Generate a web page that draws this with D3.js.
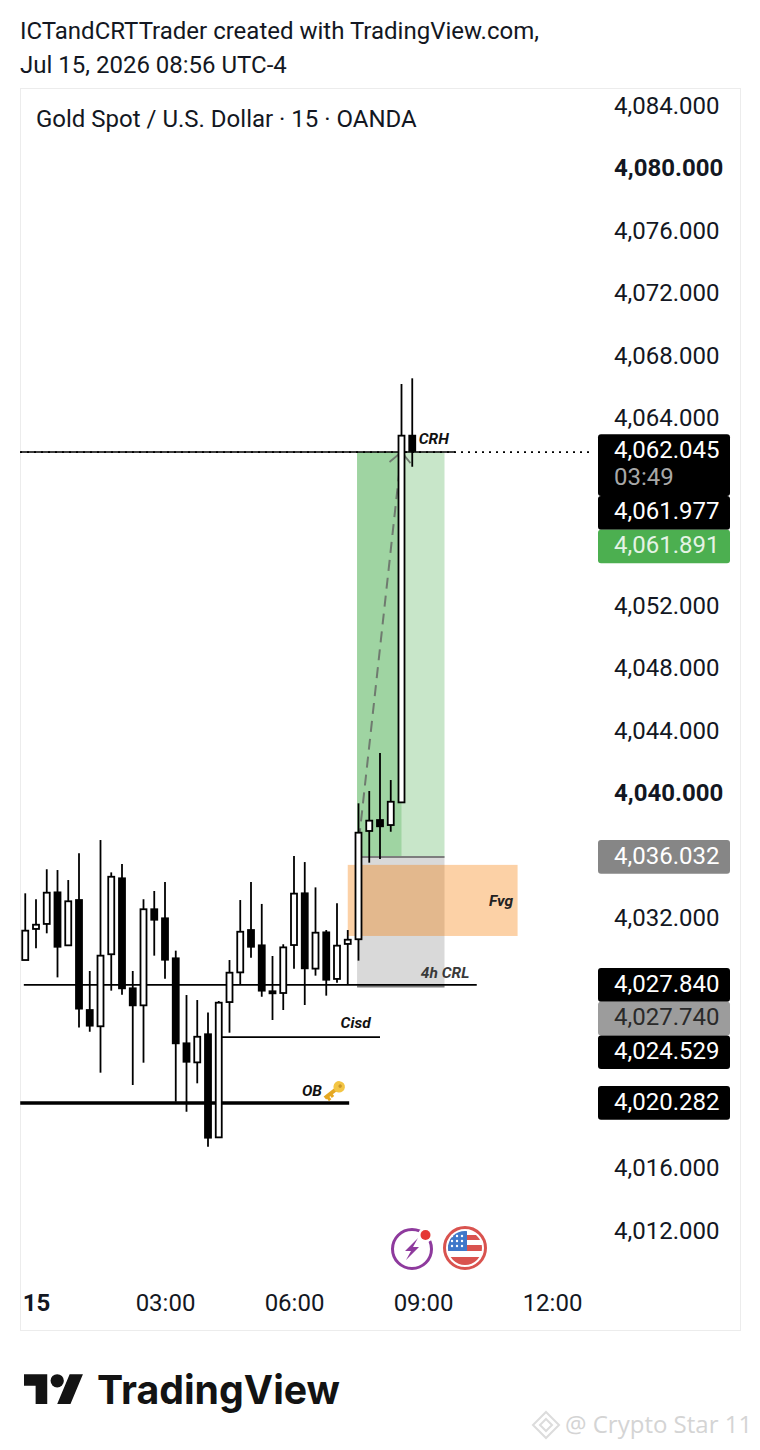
<!DOCTYPE html>
<html>
<head>
<meta charset="utf-8">
<script src="https://cdn.jsdelivr.net/npm/d3@7"></script>
<style>
    body { margin: 0; background: #fff; }
    text { font-family: Roboto, sans-serif; }
    .domain { display: none; }
</style>
</head>
<body>
<div id="chart"></div>
<script>
// candles, 15 minute bars starting 23:45 on the 14th
var opens = [4029.31, 4031.30, 4031.62, 4033.64, 4030.25, 4033.15, 4026.11, 4025.07, 4029.68, 4034.54, 4027.50, 4026.41, 4032.56, 4031.98, 4029.42, 4023.98, 4022.76, 4024.56, 4017.96, 4026.62, 4028.52, 4031.23, 4030.25, 4027.31, 4027.20, 4030.27, 4033.58, 4028.76, 4031.08, 4028.10, 4030.34, 4030.64, 4037.57, 4038.27, 4037.95, 4039.40, 4062.87];
var highs = [4033.58, 4033.20, 4035.12, 4035.07, 4034.43, 4036.14, 4028.61, 4036.99, 4034.92, 4035.46, 4028.61, 4033.20, 4033.73, 4034.30, 4029.91, 4027.07, 4026.75, 4025.96, 4026.69, 4029.31, 4033.15, 4034.30, 4032.90, 4029.57, 4030.32, 4035.97, 4035.58, 4033.96, 4031.23, 4032.94, 4031.23, 4039.34, 4040.13, 4042.56, 4040.83, 4066.18, 4066.54];
var lows = [4029.31, 4030.06, 4031.02, 4028.20, 4030.25, 4025.00, 4024.72, 4022.10, 4027.35, 4027.09, 4021.31, 4022.74, 4029.59, 4028.12, 4020.24, 4019.60, 4021.42, 4017.36, 4017.96, 4024.66, 4027.71, 4029.46, 4026.96, 4025.47, 4026.11, 4028.76, 4026.43, 4028.31, 4027.03, 4027.86, 4027.71, 4029.27, 4035.54, 4035.78, 4037.52, 4039.40, 4060.88];
var closes = [4031.19, 4031.57, 4033.62, 4030.16, 4033.07, 4026.20, 4025.11, 4029.59, 4034.64, 4027.50, 4026.41, 4032.56, 4031.89, 4029.33, 4023.98, 4022.80, 4024.40, 4017.94, 4026.58, 4028.50, 4031.12, 4030.16, 4027.35, 4027.18, 4030.12, 4033.56, 4028.78, 4031.06, 4028.05, 4030.23, 4030.61, 4037.46, 4038.23, 4037.87, 4039.44, 4062.87, 4061.89];

// axis ticks
var priceTicks = [4084, 4080, 4076, 4072, 4068, 4064, 4052, 4048, 4044, 4040, 4032, 4016, 4012];
var boldPrices = [4080, 4040];
var timeTicks = [0, 3, 6, 9, 12];

// price labels on the right
var labelPrices = [4062.045, 4061.977, 4061.891, 4036.032, 4027.840, 4027.740, 4024.529, 4020.282];
var labelKinds = ['last', 'black', 'green', 'gray', 'black', 'lightgray', 'black', 'black'];

// drawings: hours from midnight and prices
var crhPrice = 4061.82;
var entryPrice = 4035.90;
var stopPrice = 4027.72;
var boxBottom = 4027.62;
var fvgTop = 4035.40;
var fvgBottom = 4030.85;
var cisdPrice = 4024.38;
var obPrice = 4020.16;

var width = 760;
var height = 1450;
var frame = {left: 20, right: 740, top: 88, bottom: 1330};
var fontSize = 24;

function hoursToDate(h) {
    return new Date(2026, 6, 15, 0, Math.round(h * 60));
}

var xScale = d3.scaleTime()
    .domain([hoursToDate(0), hoursToDate(12)])
    .range([36, 552]);

var yScale = d3.scaleLinear()
    .domain([4084, 4012])
    .range([105.5, 1230.5]);

var x = function (h) { return xScale(hoursToDate(h)); };

var svg = d3.select('#chart')
    .append('svg')
    .attr('width', width)
    .attr('height', height)
    .style('display', 'block');

// header
svg.append('text').attr('x', 20).attr('y', 39).attr('font-size', fontSize).attr('fill', '#131722')
    .text('ICTandCRTTrader created with TradingView.com,');
svg.append('text').attr('x', 20).attr('y', 73).attr('font-size', fontSize).attr('fill', '#131722')
    .text('Jul 15, 2026 08:56 UTC-4');

svg.append('rect')
    .attr('x', frame.left + 0.5).attr('y', frame.top + 0.5)
    .attr('width', frame.right - frame.left).attr('height', frame.bottom - frame.top)
    .attr('fill', 'none').attr('stroke', '#ececec');

svg.append('text').attr('x', 36).attr('y', 127).attr('font-size', fontSize).attr('fill', '#131722')
    .text('Gold Spot / U.S. Dollar \u00b7 15 \u00b7 OANDA');

// long position tool
var boxStart = 7.47, boxMid = 8.5, boxEnd = 9.5;
svg.append('rect')
    .attr('x', x(boxStart)).attr('width', x(boxEnd) - x(boxStart))
    .attr('y', yScale(crhPrice)).attr('height', yScale(entryPrice) - yScale(crhPrice))
    .attr('fill', '#c8e6c9');
svg.append('rect')
    .attr('x', x(boxStart)).attr('width', x(boxMid) - x(boxStart))
    .attr('y', yScale(crhPrice)).attr('height', yScale(entryPrice) - yScale(crhPrice))
    .attr('fill', '#9fd4a2');
svg.append('rect')
    .attr('x', x(boxStart)).attr('width', x(boxEnd) - x(boxStart))
    .attr('y', yScale(entryPrice)).attr('height', yScale(boxBottom) - yScale(entryPrice))
    .attr('fill', '#d9d9d9');
svg.append('line')
    .attr('x1', x(boxStart)).attr('x2', x(boxEnd))
    .attr('y1', yScale(entryPrice)).attr('y2', yScale(entryPrice))
    .attr('stroke', '#7d7d7d').attr('stroke-width', 2);
svg.append('line')
    .attr('x1', x(boxStart)).attr('x2', x(boxEnd))
    .attr('y1', yScale(boxBottom)).attr('y2', yScale(boxBottom))
    .attr('stroke', '#7d7d7d').attr('stroke-width', 2);

// path of the trade, dashed, with arrow head
svg.append('line')
    .attr('x1', x(boxStart)).attr('y1', yScale(entryPrice))
    .attr('x2', x(boxMid)).attr('y2', yScale(crhPrice))
    .attr('stroke', '#6f7a6f').attr('stroke-width', 2).attr('stroke-dasharray', '11 7');
svg.append('path')
    .attr('d', 'M' + (x(boxMid) - 12) + ',' + (yScale(crhPrice) + 10)
        + 'L' + x(boxMid) + ',' + yScale(crhPrice)
        + 'L' + (x(boxMid) + 9) + ',' + (yScale(crhPrice) + 11))
    .attr('fill', 'none').attr('stroke', '#6f7a6f').attr('stroke-width', 1.8);

// fair value gap
svg.append('rect')
    .attr('x', x(7.25)).attr('width', x(11.2) - x(7.25))
    .attr('y', yScale(fvgTop)).attr('height', yScale(fvgBottom) - yScale(fvgTop))
    .attr('fill', '#f57c00').attr('fill-opacity', 0.35);

// horizontal levels
var levelLine = function (start, end, price, w) {
    svg.append('line')
        .attr('x1', x(start)).attr('x2', x(end))
        .attr('y1', yScale(price)).attr('y2', yScale(price))
        .attr('stroke', '#000').attr('stroke-width', w);
};
levelLine(-0.28, 10.25, stopPrice, 1.8);
levelLine(4.25, 8, cisdPrice, 1.8);
levelLine(-0.37, 7.28, obPrice, 3.6);
levelLine(-0.37, 9.75, crhPrice, 1.5);
svg.append('line')
    .attr('x1', frame.left).attr('x2', 592)
    .attr('y1', yScale(crhPrice)).attr('y2', yScale(crhPrice))
    .attr('stroke', '#000').attr('stroke-width', 1.8).attr('stroke-dasharray', '2 5');

// candles
var candles = d3.range(opens.length).map(function (i) {
    return {time: i * 0.25 - 0.25, open: opens[i], high: highs[i], low: lows[i], close: closes[i]};
});
var bodyWidth = 6;

var candle = svg.append('g').selectAll('g')
    .data(candles)
    .enter()
    .append('g');

candle.append('line')
    .attr('x1', function (d) { return x(d.time); })
    .attr('x2', function (d) { return x(d.time); })
    .attr('y1', function (d) { return yScale(d.high); })
    .attr('y2', function (d) { return yScale(d.low); })
    .attr('stroke', '#000')
    .attr('stroke-width', 1.8);

candle.append('rect')
    .attr('x', function (d) { return x(d.time) - bodyWidth / 2; })
    .attr('width', bodyWidth)
    .attr('y', function (d) { return yScale(Math.max(d.open, d.close)); })
    .attr('height', function (d) { return Math.abs(yScale(d.open) - yScale(d.close)); })
    .attr('fill', function (d) { return d.close > d.open ? '#fff' : '#000'; })
    .attr('stroke', '#000')
    .attr('stroke-width', 1.8);

// drawing captions
var caption = function (t, h, price, dy, color) {
    svg.append('text')
        .attr('x', x(h)).attr('y', yScale(price) + dy)
        .attr('font-size', 15.5).attr('font-weight', 700).attr('font-style', 'italic')
        .attr('fill', color)
        .text(t);
};
caption('CRH', 8.9, crhPrice, -8.5, '#111');
caption('Fvg', 10.53, (fvgTop + fvgBottom) / 2, 5.5, '#222');
caption('4h CRL', 8.95, stopPrice, -7, '#3a3a3a');
caption('Cisd', 7.08, cisdPrice, -9, '#111');
caption('OB', 6.19, obPrice, -7.5, '#111');

// key next to OB
var key = svg.append('g')
    .attr('transform', 'translate(' + (x(6.19) + 23) + ',' + (yScale(obPrice) - 5) + ') rotate(-38) scale(1.25)');
key.append('rect').attr('x', 0).attr('y', -1.6).attr('width', 12).attr('height', 3.2).attr('fill', '#e5a823');
key.append('rect').attr('x', 1).attr('y', 0).attr('width', 2.4).attr('height', 4).attr('fill', '#e5a823');
key.append('rect').attr('x', 4.4).attr('y', 0).attr('width', 2.4).attr('height', 3.4).attr('fill', '#e5a823');
key.append('circle').attr('cx', 14.5).attr('cy', 0).attr('r', 4.6).attr('fill', '#f3c544');
key.append('circle').attr('cx', 15.5).attr('cy', 0).attr('r', 1.4).attr('fill', '#c9962a');

// price axis
var yAxis = d3.axisRight(yScale)
    .tickValues(priceTicks)
    .tickSize(0)
    .tickPadding(0)
    .tickFormat(d3.format(',.3f'));

svg.append('g')
    .attr('transform', 'translate(614,0)')
    .call(yAxis)
    .call(function (g) {
        g.selectAll('text')
            .attr('font-size', fontSize)
            .attr('font-family', 'Roboto, sans-serif')
            .attr('fill', '#131722')
            .attr('font-weight', function (d) { return boldPrices.indexOf(d) >= 0 ? 700 : 400; });
    });

// time axis
var xAxis = d3.axisBottom(xScale)
    .tickValues(timeTicks.map(hoursToDate))
    .tickSize(0)
    .tickPadding(0)
    .tickFormat(function (d) { return d.getHours() === 0 ? '15' : d3.timeFormat('%H:%M')(d); });

svg.append('g')
    .attr('transform', 'translate(0,1294)')
    .call(xAxis)
    .call(function (g) {
        g.selectAll('text')
            .attr('font-size', fontSize)
            .attr('font-family', 'Roboto, sans-serif')
            .attr('fill', '#131722')
            .attr('font-weight', function (d) { return d.getHours() === 0 ? 700 : 400; });
    });

// price labels, pushed down so they do not overlap
var kindStyle = {
    last: {fill: '#000', text: '#fff', h: 61.7},
    black: {fill: '#000', text: '#fff', h: 33.7},
    green: {fill: '#4caf50', text: '#e4f3e5', h: 33.7},
    gray: {fill: '#868686', text: '#fff', h: 33.7},
    lightgray: {fill: '#9c9c9c', text: '#2a2a2a', h: 33.7}
};
var bottomEdge = 0;
labelPrices.forEach(function (p, i) {
    var s = kindStyle[labelKinds[i]];
    var top = Math.max(yScale(p) - (labelKinds[i] === 'last' ? 14.3 : 15), bottomEdge);
    bottomEdge = top + s.h;
    svg.append('rect')
        .attr('x', 598).attr('y', top)
        .attr('width', 132).attr('height', s.h).attr('rx', 3)
        .attr('fill', s.fill);
    svg.append('text')
        .attr('x', 614).attr('y', top + 23.5)
        .attr('font-size', fontSize).attr('fill', s.text)
        .text(d3.format(',.3f')(p));
    if (labelKinds[i] === 'last') {
        svg.append('text')
            .attr('x', 614).attr('y', top + 51)
            .attr('font-size', fontSize).attr('fill', '#a8a8a8')
            .text('03:49');
    }
});

// event icons
var bolt = svg.append('g').attr('transform', 'translate(412,1249)');
bolt.append('circle').attr('r', 19.5).attr('fill', 'none').attr('stroke', '#8e3a9d').attr('stroke-width', 3);
bolt.append('path').attr('d', 'M6,-11 L-7,2 L-1,2 L-6,11 L7,-2 L1,-2 Z').attr('fill', '#8e3a9d');
bolt.append('circle').attr('cx', 13.5).attr('cy', -14).attr('r', 7.5).attr('fill', '#fff');
bolt.append('circle').attr('cx', 13.5).attr('cy', -14).attr('r', 5).attr('fill', '#e53935');

var flag = svg.append('g').attr('transform', 'translate(465,1248)');
svg.append('clipPath').attr('id', 'flagClip').append('circle').attr('r', 17);
var flagInner = flag.append('g').attr('clip-path', 'url(#flagClip)');
flagInner.append('rect').attr('x', -17).attr('y', -17).attr('width', 34).attr('height', 34).attr('fill', '#fff');
flagInner.append('rect').attr('x', -17).attr('y', -13).attr('width', 34).attr('height', 5).attr('fill', '#d9534f');
flagInner.append('rect').attr('x', -17).attr('y', -3).attr('width', 34).attr('height', 6).attr('fill', '#d9534f');
flagInner.append('rect').attr('x', -17).attr('y', 9).attr('width', 34).attr('height', 8).attr('fill', '#d9534f');
flagInner.append('rect').attr('x', -17).attr('y', -17).attr('width', 19).attr('height', 20).attr('fill', '#3f78c9');
flag.append('circle').attr('r', 20.5).attr('fill', 'none').attr('stroke', '#d9534f').attr('stroke-width', 3);
[-12, -7, -2].forEach(function (cy) {
    [-13, -8, -3].forEach(function (cx) {
        flag.append('circle').attr('cx', cx).attr('cy', cy).attr('r', 1.2).attr('fill', '#fff');
    });
});

// TradingView logo
var logo = svg.append('g').attr('transform', 'translate(24,1367.5) scale(1.66)').attr('fill', '#131313');
logo.append('path').attr('d', 'M14 22H7V11H0V4h14v18zM28 22h-8l7.5-18h8L28 22z');
logo.append('circle').attr('cx', 20).attr('cy', 8).attr('r', 4);
svg.append('text')
    .attr('x', 97).attr('y', 1404)
    .style('font-family', 'Inter, sans-serif')
    .attr('font-size', 40).attr('font-weight', 700).attr('fill', '#131313')
    .attr('textLength', 243).attr('lengthAdjust', 'spacingAndGlyphs')
    .text('TradingView');

// watermark
var mark = svg.append('g').attr('transform', 'translate(546,1425)')
    .attr('fill', 'none').attr('stroke', '#dcdcdc').attr('stroke-width', 2);
mark.append('path').attr('d', 'M0,-13 L13,0 L0,13 L-13,0 Z');
mark.append('path').attr('d', 'M0,-6 L6,0 L0,6 L-6,0 Z');
svg.append('text')
    .attr('x', 565).attr('y', 1433)
    .style('font-family', '"Open Sans", sans-serif')
    .attr('font-size', 24).attr('fill', '#d4d4d4')
    .text('@ Crypto Star 11');
</script>
</body>
</html>
